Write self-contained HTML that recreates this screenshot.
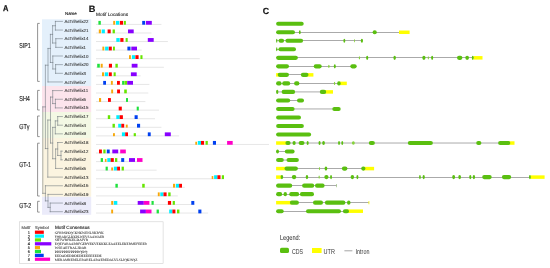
<!DOCTYPE html>
<html><head><meta charset="utf-8"><title>Figure</title>
<style>html,body{margin:0;padding:0;background:#fff;overflow:hidden}svg{display:block}</style>
</head><body>
<svg width="550" height="268" viewBox="0 0 550 268" font-family="'Liberation Sans', Arial, sans-serif" text-rendering="geometricPrecision">
<rect width="550" height="268" fill="#fff"/>
<rect x="42" y="19.3" width="49.2" height="66.70" fill="#e4f0fb"/>
<rect x="42" y="86" width="49.2" height="26.00" fill="#fce4ec"/>
<rect x="42" y="112" width="49.2" height="26.00" fill="#f3f8e4"/>
<rect x="42" y="138" width="49.2" height="58.80" fill="#fbf4e0"/>
<rect x="42" y="196.8" width="49.2" height="18.00" fill="#ebebfa"/>
<path d="M39.7 23.4 H37.6 V81.4 H39.7" fill="none" stroke="#808080" stroke-width="0.85"/>
<path d="M39.7 90.4 H37.6 V110 H39.7" fill="none" stroke="#808080" stroke-width="0.85"/>
<path d="M39.7 116 H37.6 V136.6 H39.7" fill="none" stroke="#808080" stroke-width="0.85"/>
<path d="M39.7 143.2 H37.6 V196 H39.7" fill="none" stroke="#808080" stroke-width="0.85"/>
<path d="M39.7 201.3 H37.6 V212.1 H39.7" fill="none" stroke="#808080" stroke-width="0.85"/>
<text x="19.3" y="48.4" font-size="7.2" fill="#1c1c1c" stroke="#1c1c1c" stroke-width="0.15" textLength="11.4" lengthAdjust="spacingAndGlyphs">SIP1</text>
<text x="19.3" y="101.0" font-size="7.2" fill="#1c1c1c" stroke="#1c1c1c" stroke-width="0.15" textLength="10.6" lengthAdjust="spacingAndGlyphs">SH4</text>
<text x="19.3" y="128.9" font-size="7.2" fill="#1c1c1c" stroke="#1c1c1c" stroke-width="0.15" textLength="10.3" lengthAdjust="spacingAndGlyphs">GTγ</text>
<text x="19.3" y="166.9" font-size="7.2" fill="#1c1c1c" stroke="#1c1c1c" stroke-width="0.15" textLength="11.5" lengthAdjust="spacingAndGlyphs">GT-1</text>
<text x="19.3" y="208.2" font-size="7.2" fill="#1c1c1c" stroke="#1c1c1c" stroke-width="0.15" textLength="11.8" lengthAdjust="spacingAndGlyphs">GT-2</text>
<path d="M55.40 21.40H62.40M55.40 30.05H62.40M55.40 21.40V30.05M55.80 38.70H62.40M55.80 47.35H62.40M55.80 38.70V47.35M52.60 25.72H55.40M52.60 43.03H55.80M52.60 25.72V43.03M55.60 64.65H62.40M55.60 73.30H62.40M55.60 64.65V73.30M52.80 56.00H62.40M52.80 68.98H55.60M52.80 56.00V68.98M50.40 34.38H52.60M50.40 62.49H52.80M50.40 34.38V62.49M48.00 81.95H62.40M48.00 48.43H50.40M48.00 48.43V81.95M55.40 99.25H62.40M55.40 107.90H62.40M55.40 99.25V107.90M52.70 90.60H62.40M52.70 103.58H55.40M52.70 90.60V103.58M57.70 116.55H62.40M57.70 125.20H62.40M57.70 116.55V125.20M55.30 133.85H62.40M55.30 120.88H57.70M55.30 120.88V133.85M61.00 151.15H62.40M61.00 159.80H62.40M61.00 151.15V159.80M57.70 142.50H62.40M57.70 155.48H61.00M57.70 142.50V155.48M55.60 168.45H62.40M55.60 148.99H57.70M55.60 148.99V168.45M52.70 127.36H55.30M52.70 158.72H55.60M52.70 127.36V158.72M50.50 97.09H52.70M50.50 143.04H52.70M50.50 97.09V143.04M47.80 120.06H50.50M47.80 177.10H62.40M47.80 120.06V177.10M45.40 65.19H48.00M45.40 148.58H47.80M45.40 65.19V148.58M50.20 203.05H62.40M50.20 211.70H62.40M50.20 203.05V211.70M48.00 194.40H62.40M48.00 207.38H50.20M48.00 194.40V207.38M45.40 185.75H62.40M45.40 200.89H48.00M45.40 185.75V200.89M42.80 106.89H45.40M42.80 193.32H45.40M42.80 106.89V193.32" fill="none" stroke="#5e6870" stroke-width="0.5" stroke-linecap="square"/>
<g font-size="4.4" fill="#2a2a2a" stroke="#2a2a2a" stroke-width="0.07">
<text x="64.5" y="22.95">AcTrihelix22</text>
<text x="64.5" y="31.60">AcTrihelix21</text>
<text x="64.5" y="40.25">AcTrihelix14</text>
<text x="64.5" y="48.90">AcTrihelix1</text>
<text x="64.5" y="57.55">AcTrihelix10</text>
<text x="64.5" y="66.20">AcTrihelix20</text>
<text x="64.5" y="74.85">AcTrihelix3</text>
<text x="64.5" y="83.50">AcTrihelix7</text>
<text x="64.5" y="92.15">AcTrihelix11</text>
<text x="64.5" y="100.80">AcTrihelix6</text>
<text x="64.5" y="109.45">AcTrihelix15</text>
<text x="64.5" y="118.10">AcTrihelix17</text>
<text x="64.5" y="126.75">AcTrihelix4</text>
<text x="64.5" y="135.40">AcTrihelix9</text>
<text x="64.5" y="144.05">AcTrihelix18</text>
<text x="64.5" y="152.70">AcTrihelix12</text>
<text x="64.5" y="161.35">AcTrihelix2</text>
<text x="64.5" y="170.00">AcTrihelix5</text>
<text x="64.5" y="178.65">AcTrihelix13</text>
<text x="64.5" y="187.30">AcTrihelix16</text>
<text x="64.5" y="195.95">AcTrihelix19</text>
<text x="64.5" y="204.60">AcTrihelix8</text>
<text x="64.5" y="213.25">AcTrihelix23</text>
</g>
<text x="65" y="14.8" font-size="4.4" fill="#222" stroke="#222" stroke-width="0.14">Name</text>
<text x="3" y="11" font-size="8.4" font-weight="bold" fill="#111" stroke="#111" stroke-width="0.25" textLength="5.4" lengthAdjust="spacingAndGlyphs">A</text>
<text x="88.8" y="11.6" font-size="9.2" font-weight="bold" fill="#111" stroke="#111" stroke-width="0.15">B</text>
<text x="262.7" y="13.6" font-size="8.9" font-weight="bold" fill="#111" stroke="#111" stroke-width="0.15">C</text>
<text x="96.1" y="15.9" font-size="4.75" fill="#222" stroke="#222" stroke-width="0.1">Motif Locations</text>
<line x1="96" y1="24.40" x2="161.4" y2="24.40" stroke="#cdcdcd" stroke-width="0.5"/>
<rect x="98.4" y="20.90" width="2.40" height="3.8" fill="#1ee23c"/>
<rect x="113.2" y="20.90" width="2.00" height="3.8" fill="#f7a80a"/>
<rect x="116" y="20.90" width="3.30" height="3.8" fill="#00f0ff"/>
<rect x="119.9" y="20.90" width="3.20" height="3.8" fill="#ff0000"/>
<rect x="123.9" y="20.90" width="2.00" height="3.8" fill="#66e600"/>
<rect x="142.2" y="20.90" width="2.90" height="3.8" fill="#0040f0"/>
<rect x="145.9" y="20.90" width="5.90" height="3.8" fill="#8800ff"/>
<line x1="96" y1="32.97" x2="151.5" y2="32.97" stroke="#cdcdcd" stroke-width="0.5"/>
<rect x="98.8" y="29.47" width="2.10" height="3.8" fill="#f7a80a"/>
<rect x="101.7" y="29.47" width="3.20" height="3.8" fill="#00f0ff"/>
<rect x="107.6" y="29.47" width="3.10" height="3.8" fill="#ff0000"/>
<rect x="112.6" y="29.47" width="2.30" height="3.8" fill="#66e600"/>
<rect x="128" y="29.47" width="5.70" height="3.8" fill="#8800ff"/>
<line x1="96" y1="41.55" x2="167.9" y2="41.55" stroke="#cdcdcd" stroke-width="0.5"/>
<rect x="116.3" y="38.05" width="3.40" height="3.8" fill="#00f0ff"/>
<rect x="120.3" y="38.05" width="3.20" height="3.8" fill="#ff0000"/>
<rect x="125.6" y="38.05" width="2.10" height="3.8" fill="#66e600"/>
<rect x="147.8" y="38.05" width="5.90" height="3.8" fill="#8800ff"/>
<line x1="96" y1="50.12" x2="141.7" y2="50.12" stroke="#cdcdcd" stroke-width="0.5"/>
<rect x="102.4" y="46.62" width="1.90" height="3.8" fill="#f7a80a"/>
<rect x="105.1" y="46.62" width="3.40" height="3.8" fill="#00f0ff"/>
<rect x="108.8" y="46.62" width="3.00" height="3.8" fill="#ff0000"/>
<rect x="113" y="46.62" width="1.90" height="3.8" fill="#66e600"/>
<rect x="127.4" y="46.62" width="3.10" height="3.8" fill="#0040f0"/>
<rect x="131.3" y="46.62" width="5.70" height="3.8" fill="#8800ff"/>
<line x1="96" y1="58.70" x2="199.8" y2="58.70" stroke="#cdcdcd" stroke-width="0.5"/>
<rect x="129" y="55.20" width="1.90" height="3.8" fill="#f7a80a"/>
<rect x="131.9" y="55.20" width="3.20" height="3.8" fill="#00f0ff"/>
<rect x="135.4" y="55.20" width="3.20" height="3.8" fill="#ff0000"/>
<rect x="140.4" y="55.20" width="2.10" height="3.8" fill="#66e600"/>
<line x1="96" y1="67.28" x2="163.9" y2="67.28" stroke="#cdcdcd" stroke-width="0.5"/>
<rect x="97.2" y="63.78" width="2.60" height="3.8" fill="#1ee23c"/>
<rect x="100.7" y="63.78" width="2.00" height="3.8" fill="#f7a80a"/>
<rect x="108.9" y="63.78" width="3.10" height="3.8" fill="#ff0000"/>
<rect x="115.4" y="63.78" width="2.40" height="3.8" fill="#66e600"/>
<rect x="131.7" y="63.78" width="5.80" height="3.8" fill="#8800ff"/>
<line x1="96" y1="75.85" x2="140.6" y2="75.85" stroke="#cdcdcd" stroke-width="0.5"/>
<rect x="102" y="72.35" width="2.10" height="3.8" fill="#f7a80a"/>
<rect x="104.8" y="72.35" width="3.30" height="3.8" fill="#00f0ff"/>
<rect x="108.8" y="72.35" width="3.00" height="3.8" fill="#ff0000"/>
<rect x="113.6" y="72.35" width="2.10" height="3.8" fill="#66e600"/>
<rect x="130.9" y="72.35" width="5.80" height="3.8" fill="#8800ff"/>
<line x1="96" y1="84.42" x2="149.4" y2="84.42" stroke="#cdcdcd" stroke-width="0.5"/>
<rect x="103.2" y="80.92" width="2.80" height="3.8" fill="#0040f0"/>
<rect x="110.9" y="80.92" width="1.90" height="3.8" fill="#f7a80a"/>
<rect x="117" y="80.92" width="2.90" height="3.8" fill="#ff0000"/>
<rect x="122.1" y="80.92" width="2.30" height="3.8" fill="#1ee23c"/>
<rect x="124.5" y="80.92" width="2.60" height="3.8" fill="#66e600"/>
<rect x="127.2" y="80.92" width="5.80" height="3.8" fill="#8800ff"/>
<line x1="96" y1="93.00" x2="148.3" y2="93.00" stroke="#cdcdcd" stroke-width="0.5"/>
<rect x="111.2" y="89.50" width="1.90" height="3.8" fill="#f7a80a"/>
<rect x="117.1" y="89.50" width="2.90" height="3.8" fill="#ff0000"/>
<rect x="124.2" y="89.50" width="2.60" height="3.8" fill="#66e600"/>
<line x1="96" y1="101.57" x2="145.4" y2="101.57" stroke="#cdcdcd" stroke-width="0.5"/>
<rect x="99" y="98.07" width="2.10" height="3.8" fill="#f7a80a"/>
<rect x="108" y="98.07" width="2.90" height="3.8" fill="#ff0000"/>
<rect x="126" y="98.07" width="2.00" height="3.8" fill="#1ee23c"/>
<line x1="96" y1="110.15" x2="159" y2="110.15" stroke="#cdcdcd" stroke-width="0.5"/>
<rect x="118.7" y="106.65" width="3.10" height="3.8" fill="#ff0000"/>
<rect x="136.7" y="106.65" width="2.10" height="3.8" fill="#1ee23c"/>
<line x1="96" y1="118.72" x2="155" y2="118.72" stroke="#cdcdcd" stroke-width="0.5"/>
<rect x="107.8" y="115.22" width="2.40" height="3.8" fill="#66e600"/>
<rect x="116.3" y="115.22" width="3.40" height="3.8" fill="#00f0ff"/>
<rect x="119.7" y="115.22" width="3.20" height="3.8" fill="#ff0000"/>
<rect x="134.6" y="115.22" width="3.10" height="3.8" fill="#0040f0"/>
<line x1="96" y1="127.30" x2="161.4" y2="127.30" stroke="#cdcdcd" stroke-width="0.5"/>
<rect x="112.5" y="123.80" width="2.40" height="3.8" fill="#66e600"/>
<rect x="118.2" y="123.80" width="3.10" height="3.8" fill="#00f0ff"/>
<rect x="121.3" y="123.80" width="2.90" height="3.8" fill="#ff0000"/>
<rect x="125.8" y="124.60" width="1.90" height="3.0" fill="#f7a80a"/>
<rect x="137" y="123.80" width="3.10" height="3.8" fill="#0040f0"/>
<line x1="96" y1="135.88" x2="179.1" y2="135.88" stroke="#cdcdcd" stroke-width="0.5"/>
<rect x="113" y="133.18" width="1.90" height="3.0" fill="#f7a80a"/>
<rect x="121.9" y="132.38" width="3.30" height="3.8" fill="#00f0ff"/>
<rect x="125.2" y="132.38" width="2.80" height="3.8" fill="#ff0000"/>
<rect x="133.7" y="133.18" width="2.20" height="3.0" fill="#66e600"/>
<rect x="147.8" y="132.38" width="2.90" height="3.8" fill="#0040f0"/>
<rect x="164.8" y="132.38" width="6.00" height="3.8" fill="#8800ff"/>
<line x1="96" y1="144.45" x2="269" y2="144.45" stroke="#cdcdcd" stroke-width="0.5"/>
<rect x="195.3" y="141.75" width="1.70" height="3.0" fill="#f7a80a"/>
<rect x="197.8" y="140.95" width="3.20" height="3.8" fill="#00f0ff"/>
<rect x="201" y="140.95" width="3.10" height="3.8" fill="#ff0000"/>
<rect x="205.5" y="140.95" width="2.30" height="3.8" fill="#66e600"/>
<rect x="212.9" y="140.95" width="3.10" height="3.8" fill="#0040f0"/>
<rect x="227.1" y="140.95" width="5.60" height="3.8" fill="#ff00c8"/>
<line x1="96" y1="153.03" x2="125.8" y2="153.03" stroke="#cdcdcd" stroke-width="0.5"/>
<rect x="99" y="149.53" width="2.90" height="3.8" fill="#ff0000"/>
<rect x="103.3" y="149.53" width="2.30" height="3.8" fill="#66e600"/>
<rect x="106.8" y="149.53" width="2.90" height="3.8" fill="#0040f0"/>
<rect x="112.3" y="149.53" width="5.90" height="3.8" fill="#8800ff"/>
<rect x="120.2" y="149.53" width="5.60" height="3.8" fill="#ff00c8"/>
<line x1="96" y1="161.60" x2="142.5" y2="161.60" stroke="#cdcdcd" stroke-width="0.5"/>
<rect x="100.7" y="158.10" width="2.30" height="3.8" fill="#1ee23c"/>
<rect x="104.9" y="158.90" width="1.60" height="3.0" fill="#f7a80a"/>
<rect x="107.3" y="158.10" width="3.40" height="3.8" fill="#00f0ff"/>
<rect x="110.7" y="158.10" width="3.10" height="3.8" fill="#ff0000"/>
<rect x="115" y="158.10" width="2.30" height="3.8" fill="#66e600"/>
<rect x="121.2" y="158.10" width="3.00" height="3.8" fill="#0040f0"/>
<rect x="129" y="158.10" width="6.00" height="3.8" fill="#8800ff"/>
<rect x="137" y="158.10" width="5.50" height="3.8" fill="#ff00c8"/>
<line x1="96" y1="170.17" x2="156.6" y2="170.17" stroke="#cdcdcd" stroke-width="0.5"/>
<rect x="105.6" y="166.67" width="2.20" height="3.8" fill="#1ee23c"/>
<rect x="111.2" y="167.47" width="1.90" height="3.0" fill="#f7a80a"/>
<rect x="113.9" y="166.67" width="3.20" height="3.8" fill="#00f0ff"/>
<rect x="117.1" y="166.67" width="2.90" height="3.8" fill="#ff0000"/>
<rect x="121.6" y="166.67" width="2.30" height="3.8" fill="#66e600"/>
<line x1="96" y1="178.75" x2="224" y2="178.75" stroke="#cdcdcd" stroke-width="0.5"/>
<rect x="211.7" y="176.05" width="1.60" height="3.0" fill="#f7a80a"/>
<rect x="214.1" y="175.25" width="3.30" height="3.8" fill="#00f0ff"/>
<rect x="217.4" y="175.25" width="3.10" height="3.8" fill="#ff0000"/>
<rect x="221.8" y="175.25" width="2.20" height="3.8" fill="#66e600"/>
<line x1="96" y1="187.32" x2="184.8" y2="187.32" stroke="#cdcdcd" stroke-width="0.5"/>
<rect x="115.4" y="183.82" width="2.40" height="3.8" fill="#1ee23c"/>
<rect x="142.2" y="183.82" width="2.50" height="3.8" fill="#66e600"/>
<rect x="173" y="183.82" width="2.10" height="3.8" fill="#f7a80a"/>
<rect x="175.9" y="183.82" width="3.20" height="3.8" fill="#00f0ff"/>
<rect x="179.1" y="183.82" width="2.90" height="3.8" fill="#ff0000"/>
<line x1="96" y1="195.90" x2="177.8" y2="195.90" stroke="#cdcdcd" stroke-width="0.5"/>
<rect x="157.8" y="192.40" width="1.90" height="3.8" fill="#f7a80a"/>
<rect x="160.3" y="192.40" width="3.20" height="3.8" fill="#00f0ff"/>
<rect x="163.5" y="192.40" width="3.10" height="3.8" fill="#ff0000"/>
<rect x="168.2" y="192.40" width="2.40" height="3.8" fill="#66e600"/>
<line x1="96" y1="204.47" x2="194.3" y2="204.47" stroke="#cdcdcd" stroke-width="0.5"/>
<rect x="111.2" y="200.97" width="2.10" height="3.8" fill="#f7a80a"/>
<rect x="113.9" y="200.97" width="3.40" height="3.8" fill="#00f0ff"/>
<rect x="137.7" y="200.97" width="6.10" height="3.8" fill="#8800ff"/>
<rect x="143.8" y="200.97" width="5.60" height="3.8" fill="#ff00c8"/>
<rect x="151.5" y="200.97" width="2.20" height="3.8" fill="#1ee23c"/>
<rect x="167.9" y="200.97" width="3.20" height="3.8" fill="#ff0000"/>
<rect x="172.7" y="200.97" width="2.20" height="3.8" fill="#66e600"/>
<rect x="191.3" y="200.97" width="3.00" height="3.8" fill="#0040f0"/>
<line x1="96" y1="213.05" x2="208.1" y2="213.05" stroke="#cdcdcd" stroke-width="0.5"/>
<rect x="111.2" y="209.55" width="1.90" height="3.8" fill="#f7a80a"/>
<rect x="140.1" y="209.55" width="5.80" height="3.8" fill="#8800ff"/>
<rect x="145.9" y="209.55" width="5.60" height="3.8" fill="#ff00c8"/>
<rect x="156.6" y="209.55" width="2.30" height="3.8" fill="#1ee23c"/>
<rect x="169.2" y="209.55" width="3.20" height="3.8" fill="#00f0ff"/>
<rect x="172.4" y="209.55" width="3.00" height="3.8" fill="#ff0000"/>
<rect x="177" y="209.55" width="2.40" height="3.8" fill="#66e600"/>
<rect x="198.3" y="209.55" width="3.10" height="3.8" fill="#0040f0"/>
<rect x="19.6" y="221.8" width="143.5" height="41.8" fill="#fff" stroke="#cfcfcf" stroke-width="0.6"/>
<text x="21.5" y="228.6" font-size="4.1" fill="#222" stroke="#222" stroke-width="0.05">Motif</text>
<text x="35.1" y="228.6" font-size="4.1" fill="#222" stroke="#222" stroke-width="0.05">Symbol</text>
<text x="55" y="228.6" font-size="4.65" fill="#222" stroke="#222" stroke-width="0.12">Motif Consensus</text>
<text x="27.8" y="233.65" font-size="4" fill="#222" stroke="#222" stroke-width="0.12">1</text>
<rect x="34.9" y="230.60" width="8.9" height="3.25" fill="#ff0000"/>
<text x="54.8" y="233.65" font-size="3.4" font-family="'Liberation Serif', serif" fill="#111" stroke="#111" stroke-width="0.03" textLength="49" lengthAdjust="spacingAndGlyphs">GFRRSPKQCKNKWENLNKRYK</text>
<text x="27.8" y="237.51" font-size="4" fill="#222" stroke="#222" stroke-width="0.12">2</text>
<rect x="34.9" y="234.46" width="9.1" height="3.25" fill="#00f0ff"/>
<text x="54.8" y="237.51" font-size="3.4" font-family="'Liberation Serif', serif" fill="#111" stroke="#111" stroke-width="0.03" textLength="49.5" lengthAdjust="spacingAndGlyphs">FQRAKGLKKPLWEVSAAMAER</text>
<text x="27.8" y="241.37" font-size="4" fill="#222" stroke="#222" stroke-width="0.12">3</text>
<rect x="34.9" y="238.32" width="6.1" height="3.25" fill="#66e600"/>
<text x="54.8" y="241.37" font-size="3.4" font-family="'Liberation Serif', serif" fill="#111" stroke="#111" stroke-width="0.03" textLength="33.4" lengthAdjust="spacingAndGlyphs">SRTWRFKELDAIYR</text>
<text x="27.8" y="245.23" font-size="4" fill="#222" stroke="#222" stroke-width="0.12">4</text>
<rect x="34.9" y="242.18" width="16.4" height="3.25" fill="#8800ff"/>
<text x="54.8" y="245.23" font-size="3.4" font-family="'Liberation Serif', serif" fill="#111" stroke="#111" stroke-width="0.03" textLength="92.1" lengthAdjust="spacingAndGlyphs">EQEYARAARRFGERYEKVEKKKLEAAEELEKERMEFEEER</text>
<text x="27.8" y="249.09" font-size="4" fill="#222" stroke="#222" stroke-width="0.12">5</text>
<rect x="34.9" y="246.04" width="5.1" height="3.25" fill="#f7a80a"/>
<text x="54.8" y="249.09" font-size="3.4" font-family="'Liberation Serif', serif" fill="#111" stroke="#111" stroke-width="0.03" textLength="31.8" lengthAdjust="spacingAndGlyphs">WSEAETRALJDAR</text>
<text x="27.8" y="252.95" font-size="4" fill="#222" stroke="#222" stroke-width="0.12">6</text>
<rect x="34.9" y="249.90" width="6.1" height="3.25" fill="#1ee23c"/>
<text x="54.8" y="252.95" font-size="3.4" font-family="'Liberation Serif', serif" fill="#111" stroke="#111" stroke-width="0.03" textLength="32.5" lengthAdjust="spacingAndGlyphs">PPPPPPPPPPPQPQ</text>
<text x="27.8" y="256.81" font-size="4" fill="#222" stroke="#222" stroke-width="0.12">7</text>
<rect x="34.9" y="253.76" width="8.8" height="3.25" fill="#0040f0"/>
<text x="54.8" y="256.81" font-size="3.4" font-family="'Liberation Serif', serif" fill="#111" stroke="#111" stroke-width="0.03" textLength="46.9" lengthAdjust="spacingAndGlyphs">EEDADEDDDEDEEEEEEEDE</text>
<text x="27.8" y="260.67" font-size="4" fill="#222" stroke="#222" stroke-width="0.12">8</text>
<rect x="34.9" y="257.62" width="15.2" height="3.25" fill="#ff00c8"/>
<text x="54.8" y="260.67" font-size="3.4" font-family="'Liberation Serif', serif" fill="#111" stroke="#111" stroke-width="0.03" textLength="82.5" lengthAdjust="spacingAndGlyphs">MERAMRERELERARELARAEREDALVLSLJQKJSQZ</text>
<rect x="276.1" y="21.70" width="27.60" height="4.1" rx="2.00" ry="2.05" fill="#5abf10"/>
<line x1="276.1" y1="32.50" x2="409" y2="32.50" stroke="#a0a0a0" stroke-width="0.9"/>
<rect x="276.1" y="30.22" width="18.90" height="4.1" rx="2.00" ry="2.05" fill="#5abf10"/>
<rect x="298.9" y="30.22" width="1.80" height="4.1" rx="0.90" ry="2.05" fill="#5abf10"/>
<rect x="372.6" y="30.22" width="4.20" height="4.1" rx="2.00" ry="2.05" fill="#5abf10"/>
<rect x="399" y="30.52" width="10.60" height="3.5" fill="#ffff00"/>
<line x1="276.1" y1="40.50" x2="362.5" y2="40.50" stroke="#a0a0a0" stroke-width="0.9"/>
<rect x="276.1" y="38.74" width="1.30" height="4.1" rx="0.65" ry="2.05" fill="#5abf10"/>
<rect x="278.5" y="38.74" width="5.60" height="4.1" rx="2.00" ry="2.05" fill="#5abf10"/>
<rect x="285.4" y="38.74" width="17.70" height="4.1" rx="2.00" ry="2.05" fill="#5abf10"/>
<rect x="343.4" y="38.74" width="1.90" height="4.1" rx="0.95" ry="2.05" fill="#5abf10"/>
<ellipse cx="354.55" cy="40.79" rx="0.45" ry="1.7" fill="#86d23c"/>
<rect x="360.8" y="38.74" width="2.20" height="4.1" rx="1.10" ry="2.05" fill="#5abf10"/>
<line x1="276.1" y1="49.50" x2="279" y2="49.50" stroke="#a0a0a0" stroke-width="0.9"/>
<rect x="276.1" y="47.26" width="1.30" height="4.1" rx="0.65" ry="2.05" fill="#5abf10"/>
<rect x="278.4" y="47.26" width="17.60" height="4.1" rx="2.00" ry="2.05" fill="#5abf10"/>
<line x1="276.1" y1="57.50" x2="474" y2="57.50" stroke="#a0a0a0" stroke-width="0.9"/>
<rect x="276.1" y="55.78" width="21.80" height="4.1" rx="2.00" ry="2.05" fill="#5abf10"/>
<ellipse cx="359.45" cy="57.83" rx="0.65" ry="1.7" fill="#86d23c"/>
<rect x="366.1" y="55.78" width="2.20" height="4.1" rx="1.10" ry="2.05" fill="#5abf10"/>
<rect x="393.4" y="55.78" width="2.50" height="4.1" rx="1.25" ry="2.05" fill="#5abf10"/>
<rect x="422.3" y="55.78" width="3.20" height="4.1" rx="1.60" ry="2.05" fill="#5abf10"/>
<ellipse cx="428.35" cy="57.83" rx="0.65" ry="1.7" fill="#86d23c"/>
<rect x="431.1" y="55.78" width="2.10" height="4.1" rx="1.05" ry="2.05" fill="#5abf10"/>
<rect x="457" y="55.78" width="5.40" height="4.1" rx="2.00" ry="2.05" fill="#5abf10"/>
<rect x="465.3" y="55.78" width="3.70" height="4.1" rx="1.85" ry="2.05" fill="#5abf10"/>
<rect x="473.4" y="56.08" width="9.10" height="3.5" fill="#ffff00"/>
<rect x="471.8" y="55.78" width="1.90" height="4.1" rx="0.95" ry="2.05" fill="#5abf10"/>
<line x1="276.1" y1="66.50" x2="356" y2="66.50" stroke="#a0a0a0" stroke-width="0.9"/>
<rect x="276.1" y="64.30" width="12.90" height="4.1" rx="2.00" ry="2.05" fill="#5abf10"/>
<rect x="313.7" y="64.30" width="8.00" height="4.1" rx="2.00" ry="2.05" fill="#5abf10"/>
<ellipse cx="328.85" cy="66.35" rx="0.75" ry="1.7" fill="#86d23c"/>
<rect x="333.8" y="64.30" width="2.00" height="4.1" rx="1.00" ry="2.05" fill="#5abf10"/>
<rect x="350.3" y="64.30" width="6.40" height="4.1" rx="2.00" ry="2.05" fill="#5abf10"/>
<line x1="277" y1="74.50" x2="310" y2="74.50" stroke="#a0a0a0" stroke-width="0.9"/>
<rect x="276.1" y="73.12" width="2.90" height="3.5" fill="#ffff00"/>
<rect x="307" y="73.12" width="6.40" height="3.5" fill="#ffff00"/>
<rect x="277.7" y="72.82" width="11.30" height="4.1" rx="2.00" ry="2.05" fill="#5abf10"/>
<rect x="300.8" y="72.82" width="7.70" height="4.1" rx="2.00" ry="2.05" fill="#5abf10"/>
<line x1="276.1" y1="83.50" x2="342" y2="83.50" stroke="#a0a0a0" stroke-width="0.9"/>
<rect x="339" y="81.64" width="7.80" height="3.5" fill="#ffff00"/>
<rect x="276.1" y="81.34" width="5.50" height="4.1" rx="2.00" ry="2.05" fill="#5abf10"/>
<rect x="282.2" y="81.34" width="8.00" height="4.1" rx="2.00" ry="2.05" fill="#5abf10"/>
<rect x="294.1" y="81.34" width="5.30" height="4.1" rx="2.00" ry="2.05" fill="#5abf10"/>
<ellipse cx="334.55" cy="83.39" rx="0.65" ry="1.7" fill="#86d23c"/>
<rect x="337.1" y="81.34" width="3.60" height="4.1" rx="1.80" ry="2.05" fill="#5abf10"/>
<line x1="276.1" y1="91.91" x2="328" y2="91.91" stroke="#a0a0a0" stroke-width="0.9"/>
<rect x="324" y="90.16" width="9.00" height="3.5" fill="#ffff00"/>
<rect x="276.1" y="89.86" width="2.30" height="4.1" rx="1.15" ry="2.05" fill="#5abf10"/>
<rect x="281.6" y="89.86" width="13.50" height="4.1" rx="2.00" ry="2.05" fill="#5abf10"/>
<rect x="319.8" y="89.86" width="6.40" height="4.1" rx="2.00" ry="2.05" fill="#5abf10"/>
<line x1="276.1" y1="100.50" x2="304" y2="100.50" stroke="#a0a0a0" stroke-width="0.9"/>
<rect x="276.1" y="98.38" width="14.10" height="4.1" rx="2.00" ry="2.05" fill="#5abf10"/>
<rect x="297" y="98.38" width="7.00" height="4.1" rx="2.00" ry="2.05" fill="#5abf10"/>
<line x1="276.1" y1="108.95" x2="340" y2="108.95" stroke="#a0a0a0" stroke-width="0.9"/>
<rect x="276.1" y="106.90" width="18.50" height="4.1" rx="2.00" ry="2.05" fill="#5abf10"/>
<rect x="332.3" y="106.90" width="8.40" height="4.1" rx="2.00" ry="2.05" fill="#5abf10"/>
<rect x="276.1" y="115.42" width="24.90" height="4.1" rx="2.00" ry="2.05" fill="#5abf10"/>
<rect x="276.1" y="123.94" width="27.80" height="4.1" rx="2.00" ry="2.05" fill="#5abf10"/>
<rect x="276.1" y="132.46" width="35.00" height="4.1" rx="2.00" ry="2.05" fill="#5abf10"/>
<line x1="277" y1="143.03" x2="512" y2="143.03" stroke="#a0a0a0" stroke-width="0.9"/>
<rect x="276.1" y="141.28" width="10.90" height="3.5" fill="#ffff00"/>
<rect x="508" y="141.28" width="6.50" height="3.5" fill="#ffff00"/>
<rect x="285.4" y="140.98" width="5.20" height="4.1" rx="2.00" ry="2.05" fill="#5abf10"/>
<rect x="292.5" y="140.98" width="3.20" height="4.1" rx="1.60" ry="2.05" fill="#5abf10"/>
<rect x="298.6" y="140.98" width="5.90" height="4.1" rx="2.00" ry="2.05" fill="#5abf10"/>
<rect x="306.6" y="140.98" width="2.10" height="4.1" rx="1.05" ry="2.05" fill="#5abf10"/>
<rect x="318.5" y="140.98" width="2.10" height="4.1" rx="1.05" ry="2.05" fill="#5abf10"/>
<rect x="322.2" y="140.98" width="2.70" height="4.1" rx="1.35" ry="2.05" fill="#5abf10"/>
<rect x="338.1" y="140.98" width="1.90" height="4.1" rx="0.95" ry="2.05" fill="#5abf10"/>
<rect x="341.3" y="140.98" width="1.90" height="4.1" rx="0.95" ry="2.05" fill="#5abf10"/>
<ellipse cx="353.35" cy="143.03" rx="1.45" ry="1.7" fill="#86d23c"/>
<rect x="368.8" y="140.98" width="6.10" height="4.1" rx="2.00" ry="2.05" fill="#5abf10"/>
<rect x="407.8" y="140.98" width="25.10" height="4.1" rx="2.00" ry="2.05" fill="#5abf10"/>
<rect x="476.2" y="140.98" width="5.20" height="4.1" rx="2.00" ry="2.05" fill="#5abf10"/>
<rect x="498.1" y="140.98" width="12.20" height="4.1" rx="2.00" ry="2.05" fill="#5abf10"/>
<line x1="276.1" y1="151.50" x2="294" y2="151.50" stroke="#a0a0a0" stroke-width="0.9"/>
<rect x="276.1" y="149.50" width="2.90" height="4.1" rx="1.45" ry="2.05" fill="#5abf10"/>
<rect x="284.8" y="149.50" width="9.80" height="4.1" rx="2.00" ry="2.05" fill="#5abf10"/>
<line x1="276.1" y1="160.07" x2="298" y2="160.07" stroke="#a0a0a0" stroke-width="0.9"/>
<rect x="276.1" y="158.02" width="7.70" height="4.1" rx="2.00" ry="2.05" fill="#5abf10"/>
<rect x="286.5" y="158.02" width="12.40" height="4.1" rx="2.00" ry="2.05" fill="#5abf10"/>
<line x1="277" y1="168.50" x2="366" y2="168.50" stroke="#a0a0a0" stroke-width="0.9"/>
<rect x="276.1" y="166.84" width="9.90" height="3.5" fill="#ffff00"/>
<rect x="363.5" y="166.84" width="10.60" height="3.5" fill="#ffff00"/>
<rect x="284.5" y="166.54" width="13.40" height="4.1" rx="2.00" ry="2.05" fill="#5abf10"/>
<ellipse cx="319.55" cy="168.59" rx="0.55" ry="1.7" fill="#86d23c"/>
<rect x="324.6" y="166.54" width="2.70" height="4.1" rx="1.35" ry="2.05" fill="#5abf10"/>
<rect x="341.9" y="166.54" width="5.50" height="4.1" rx="2.00" ry="2.05" fill="#5abf10"/>
<rect x="361.2" y="166.54" width="4.20" height="4.1" rx="2.00" ry="2.05" fill="#5abf10"/>
<line x1="277" y1="177.50" x2="531" y2="177.50" stroke="#a0a0a0" stroke-width="0.9"/>
<rect x="276.1" y="175.36" width="5.40" height="3.5" fill="#ffff00"/>
<rect x="530.2" y="175.36" width="14.40" height="3.5" fill="#ffff00"/>
<rect x="280.6" y="175.06" width="2.60" height="4.1" rx="1.30" ry="2.05" fill="#5abf10"/>
<rect x="291.8" y="175.06" width="4.50" height="4.1" rx="2.00" ry="2.05" fill="#5abf10"/>
<rect x="305.7" y="175.06" width="2.50" height="4.1" rx="1.25" ry="2.05" fill="#5abf10"/>
<ellipse cx="319.15" cy="177.11" rx="0.65" ry="1.7" fill="#86d23c"/>
<rect x="324.3" y="175.06" width="4.20" height="4.1" rx="2.00" ry="2.05" fill="#5abf10"/>
<rect x="330.1" y="175.06" width="1.90" height="4.1" rx="0.95" ry="2.05" fill="#5abf10"/>
<rect x="350.6" y="175.06" width="3.50" height="4.1" rx="1.75" ry="2.05" fill="#5abf10"/>
<rect x="356.4" y="175.06" width="2.00" height="4.1" rx="1.00" ry="2.05" fill="#5abf10"/>
<rect x="419.1" y="175.06" width="1.70" height="4.1" rx="0.85" ry="2.05" fill="#5abf10"/>
<rect x="422.6" y="175.06" width="2.20" height="4.1" rx="1.10" ry="2.05" fill="#5abf10"/>
<rect x="452.2" y="175.06" width="2.90" height="4.1" rx="1.45" ry="2.05" fill="#5abf10"/>
<rect x="458.3" y="175.06" width="2.70" height="4.1" rx="1.35" ry="2.05" fill="#5abf10"/>
<rect x="469.2" y="175.06" width="2.20" height="4.1" rx="1.10" ry="2.05" fill="#5abf10"/>
<rect x="472.7" y="175.06" width="2.40" height="4.1" rx="1.20" ry="2.05" fill="#5abf10"/>
<rect x="482.2" y="175.06" width="9.50" height="4.1" rx="2.00" ry="2.05" fill="#5abf10"/>
<rect x="501.9" y="175.06" width="9.30" height="4.1" rx="2.00" ry="2.05" fill="#5abf10"/>
<rect x="529" y="175.06" width="1.80" height="4.1" rx="0.90" ry="2.05" fill="#5abf10"/>
<line x1="276.1" y1="185.50" x2="336.5" y2="185.50" stroke="#a0a0a0" stroke-width="0.9"/>
<rect x="276.1" y="183.58" width="16.10" height="4.1" rx="2.00" ry="2.05" fill="#5abf10"/>
<rect x="302.1" y="183.58" width="12.10" height="4.1" rx="2.00" ry="2.05" fill="#5abf10"/>
<rect x="315" y="183.58" width="9.60" height="4.1" rx="2.00" ry="2.05" fill="#5abf10"/>
<line x1="336.5" y1="184.03" x2="336.5" y2="187.23" stroke="#8ab36a" stroke-width="0.6"/>
<line x1="276.1" y1="194.50" x2="314" y2="194.50" stroke="#a0a0a0" stroke-width="0.9"/>
<rect x="276.1" y="192.10" width="6.10" height="4.1" rx="2.00" ry="2.05" fill="#5abf10"/>
<rect x="283.5" y="192.10" width="3.50" height="4.1" rx="1.75" ry="2.05" fill="#5abf10"/>
<rect x="289.2" y="192.10" width="10.00" height="4.1" rx="2.00" ry="2.05" fill="#5abf10"/>
<rect x="299.9" y="192.10" width="14.10" height="4.1" rx="2.00" ry="2.05" fill="#5abf10"/>
<line x1="277" y1="202.50" x2="369" y2="202.50" stroke="#a0a0a0" stroke-width="0.9"/>
<rect x="276.1" y="200.92" width="15.40" height="3.5" fill="#ffff00"/>
<rect x="289.9" y="200.62" width="9.00" height="4.1" rx="2.00" ry="2.05" fill="#5abf10"/>
<rect x="313" y="200.62" width="10.00" height="4.1" rx="2.00" ry="2.05" fill="#5abf10"/>
<rect x="324.9" y="200.62" width="20.50" height="4.1" rx="2.00" ry="2.05" fill="#5abf10"/>
<rect x="347" y="200.62" width="3.50" height="4.1" rx="1.75" ry="2.05" fill="#5abf10"/>
<rect x="368.4" y="201.07" width="1" height="3.2" fill="#f0f030"/>
<line x1="276.1" y1="211.50" x2="350" y2="211.50" stroke="#a0a0a0" stroke-width="0.9"/>
<rect x="347" y="209.44" width="16.00" height="3.5" fill="#ffff00"/>
<rect x="276.1" y="209.14" width="7.60" height="4.1" rx="2.00" ry="2.05" fill="#5abf10"/>
<rect x="306" y="209.14" width="35.00" height="4.1" rx="2.00" ry="2.05" fill="#5abf10"/>
<rect x="342.9" y="209.14" width="6.10" height="4.1" rx="2.00" ry="2.05" fill="#5abf10"/>
<text x="279.9" y="239.6" font-size="7.2" fill="#222" textLength="20.4" lengthAdjust="spacingAndGlyphs">Legend:</text>
<rect x="280" y="247.7" width="9" height="5.3" rx="1.6" fill="#5abf10"/>
<text x="292" y="253.5" font-size="7.2" fill="#333" textLength="11" lengthAdjust="spacingAndGlyphs">CDS</text>
<rect x="312" y="248" width="9.6" height="5" fill="#ffff00"/>
<text x="323.6" y="253.5" font-size="7.2" fill="#333" textLength="11.4" lengthAdjust="spacingAndGlyphs">UTR</text>
<line x1="344.4" y1="250.8" x2="352.4" y2="250.8" stroke="#666" stroke-width="0.6"/>
<text x="355.6" y="253.5" font-size="7.2" fill="#333" textLength="13.8" lengthAdjust="spacingAndGlyphs">Intron</text>
</svg>
</body></html>
